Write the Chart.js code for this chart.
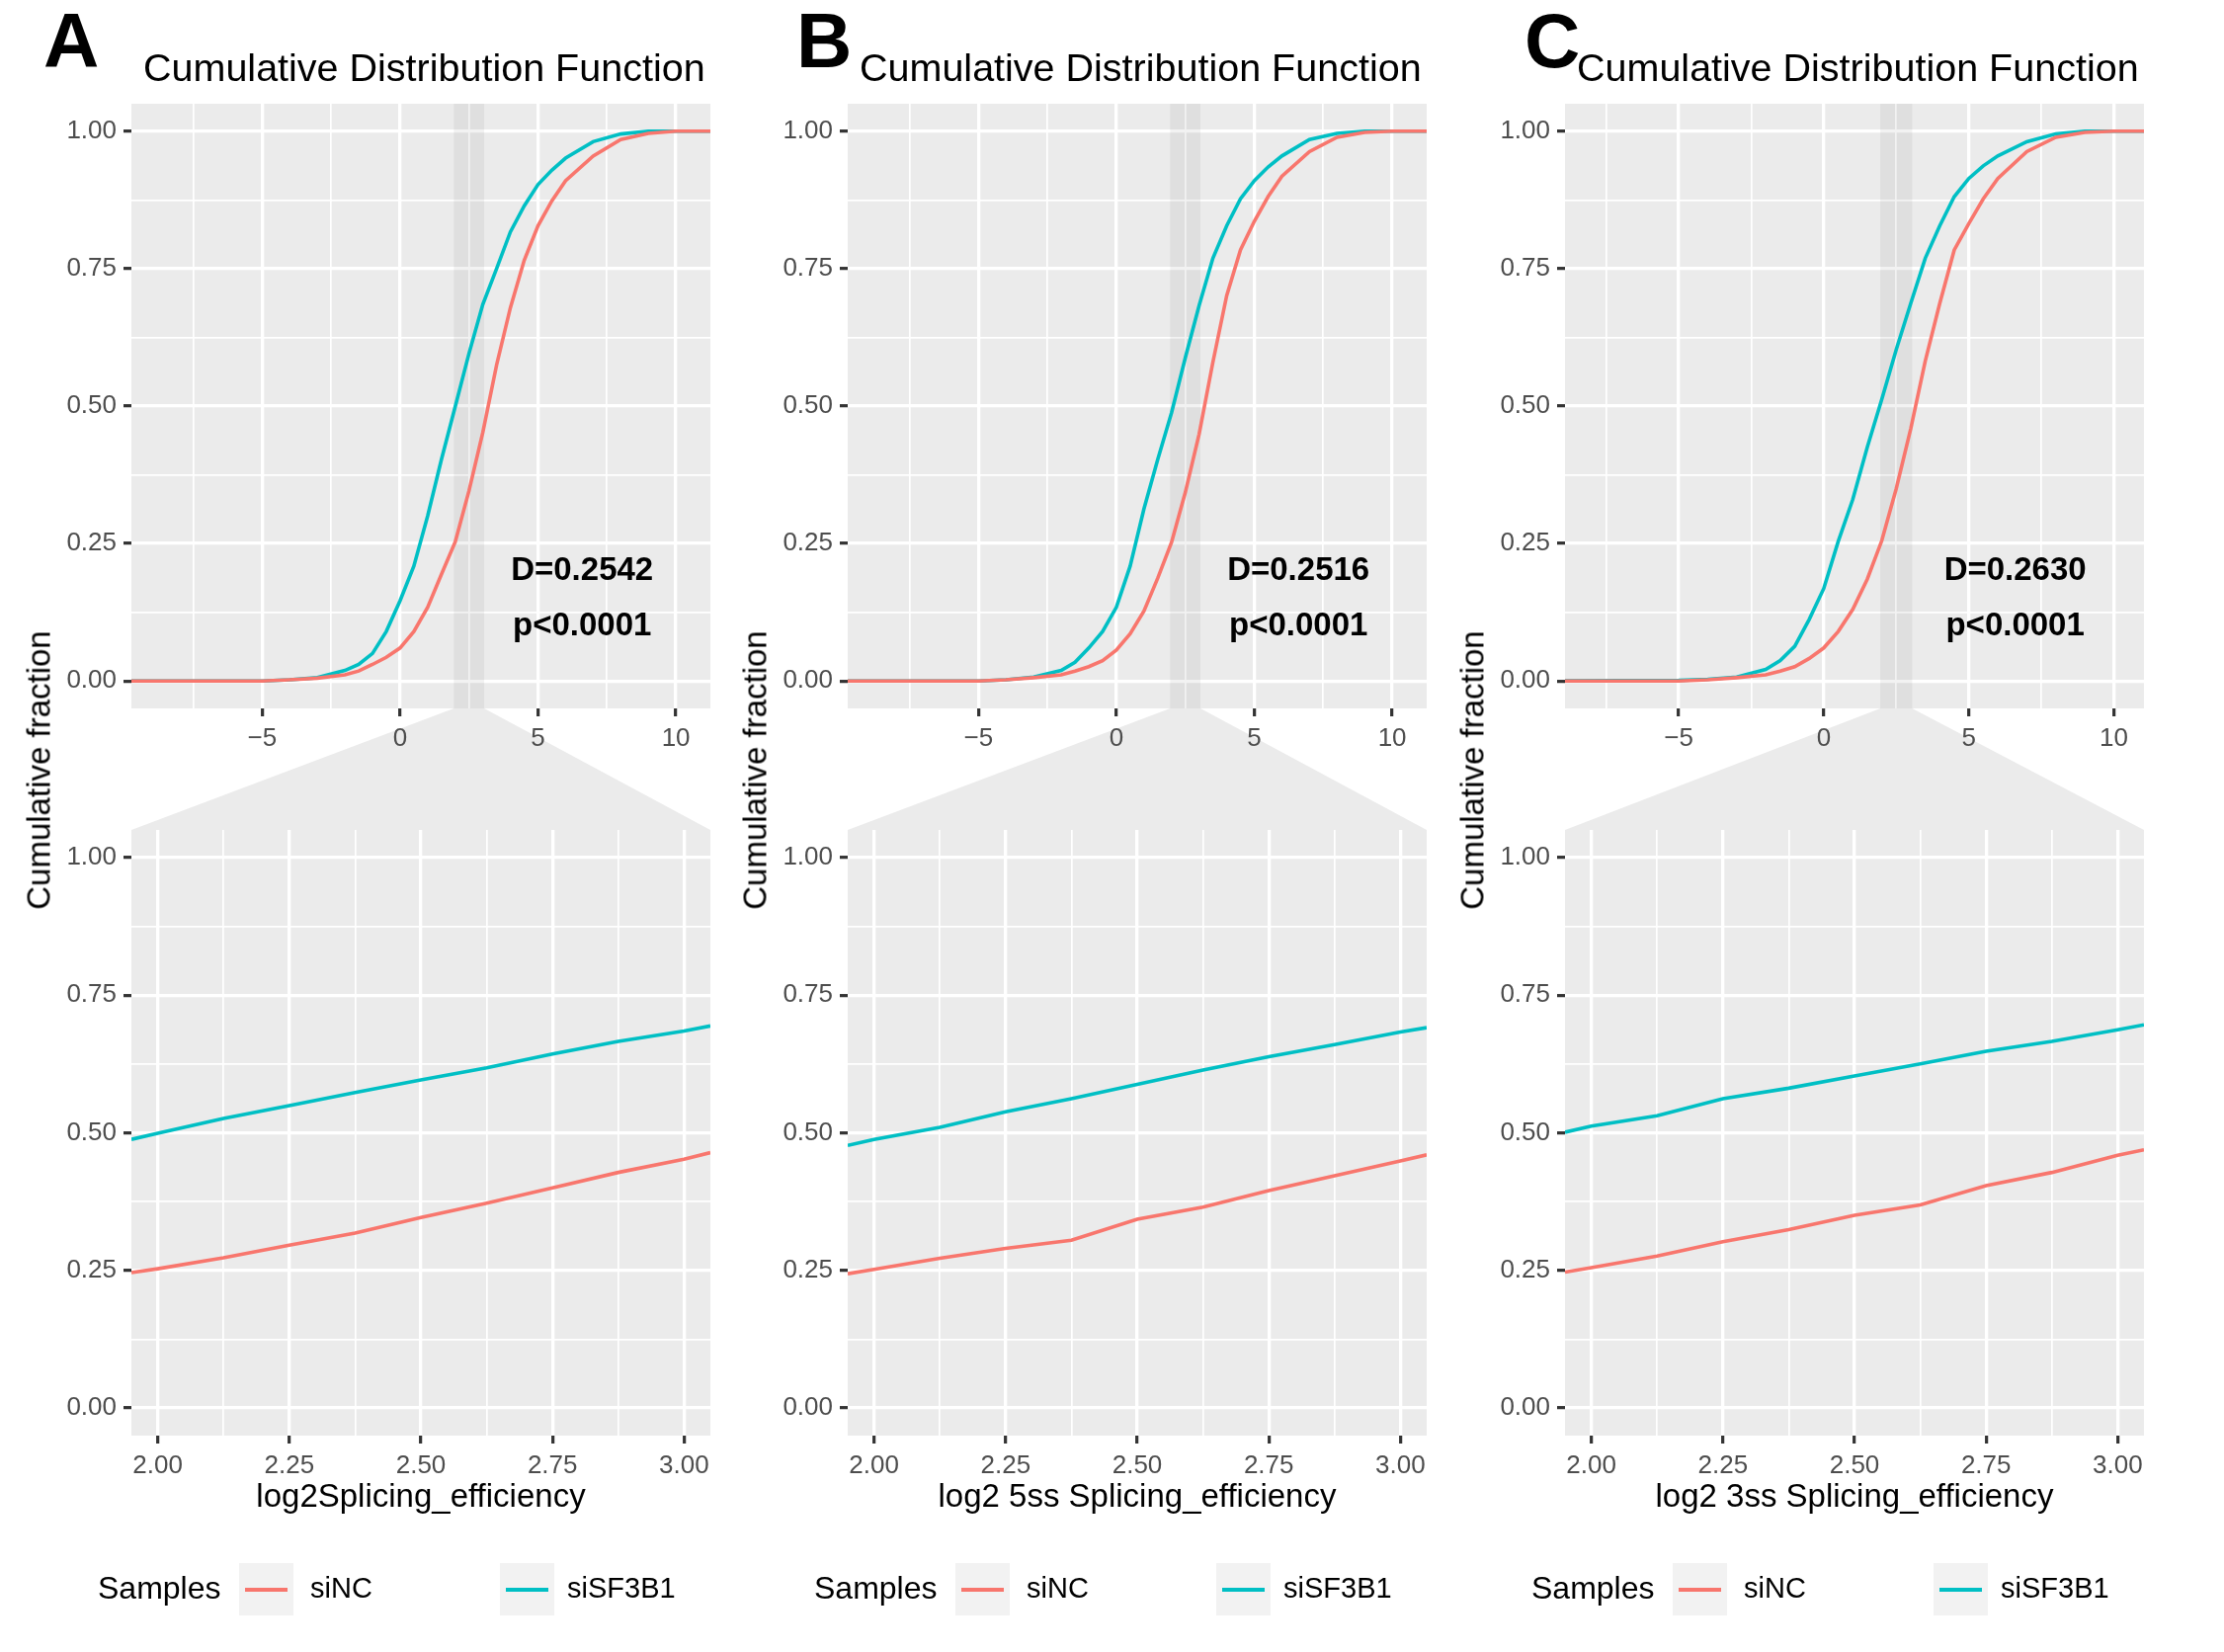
<!DOCTYPE html>
<html>
<head>
<meta charset="utf-8">
<script src="https://cdn.jsdelivr.net/npm/chart.js@4.4.1/dist/chart.umd.min.js"></script>
<style>
  body { margin: 0; background: #fff; }
  #page { position: relative; width: 2251px; height: 1672px; overflow: hidden;
          font-family: 'Liberation Sans', Arial, Helvetica, sans-serif; }
  #zoomLayer { position: absolute; left: 0; top: 0; z-index: 1; }
  .txt { position: absolute; white-space: nowrap; line-height: 1; z-index: 3; color: #000; }
</style>
</head>
<body>
<div id="page"><canvas id="zoomLayer" width="2251" height="1672"></canvas></div>
<script>
// ---- data ----
const sampleNames = ['siNC', 'siSF3B1'];
const sampleColors = ['#F8766D', '#00BFC4'];
const panelLetters = ['A', 'B', 'C'];
const panelTitle = 'Cumulative Distribution Function';
const xTitles = ['log2Splicing_efficiency', 'log2 5ss Splicing_efficiency', 'log2 3ss Splicing_efficiency'];
const yTitle = 'Cumulative fraction';
const ksStats = ['D=0.2542', 'D=0.2516', 'D=0.2630'];
const ksPvals = ['p<0.0001', 'p<0.0001', 'p<0.0001'];

// full range x limits of each top panel, and the zoomed window
const topXLimits = [[-9.74, 11.25], [-9.74, 11.25], [-8.92, 11.04]];
const zoomXLimits = [1.95, 3.05];
const yLimits = [-0.05, 1.05];

// tick positions (majors get labels)
const topXTicks = [-7.5, -5, -2.5, 0, 2.5, 5, 7.5, 10];
const zoomXTicks = [2, 2.125, 2.25, 2.375, 2.5, 2.625, 2.75, 2.875, 3];
const yTicks = [0, 0.125, 0.25, 0.375, 0.5, 0.625, 0.75, 0.875, 1];

// cumulative fraction
const cdfX = [-10, -5, -4, -3, -2, -1.5, -1, -0.5, 0, 0.5, 1, 1.5, 2, 2.5, 3, 3.5, 4, 4.5, 5, 5.5, 6, 7, 8, 9, 10, 12];
const cdfA_siNC    = [0, 0, 0.002, 0.005, 0.011, 0.018, 0.03, 0.043, 0.06, 0.09, 0.134, 0.194, 0.253, 0.346, 0.452, 0.575, 0.679, 0.765, 0.828, 0.873, 0.91, 0.955, 0.985, 0.996, 1, 1];
const cdfA_siSF3B1 = [0, 0, 0.002, 0.006, 0.019, 0.03, 0.05, 0.09, 0.146, 0.209, 0.30, 0.403, 0.499, 0.596, 0.685, 0.75, 0.817, 0.864, 0.903, 0.929, 0.951, 0.981, 0.995, 1, 1, 1];
const cdfB_siNC    = [0, 0, 0.002, 0.006, 0.011, 0.018, 0.026, 0.037, 0.056, 0.086, 0.127, 0.187, 0.252, 0.343, 0.449, 0.58, 0.701, 0.784, 0.836, 0.881, 0.918, 0.963, 0.989, 0.998, 1, 1];
const cdfB_siSF3B1 = [0, 0, 0.002, 0.007, 0.019, 0.034, 0.06, 0.09, 0.134, 0.209, 0.313, 0.403, 0.488, 0.588, 0.683, 0.769, 0.828, 0.877, 0.91, 0.935, 0.955, 0.985, 0.996, 1, 1, 1];
const cdfC_siNC    = [0, 0, 0.002, 0.006, 0.011, 0.018, 0.026, 0.041, 0.06, 0.09, 0.13, 0.185, 0.255, 0.35, 0.459, 0.582, 0.687, 0.784, 0.832, 0.877, 0.914, 0.963, 0.989, 0.998, 1, 1];
const cdfC_siSF3B1 = [0, 0.001, 0.003, 0.007, 0.021, 0.037, 0.063, 0.112, 0.168, 0.254, 0.33, 0.425, 0.512, 0.603, 0.687, 0.769, 0.828, 0.881, 0.914, 0.937, 0.955, 0.981, 0.995, 1, 1, 1];

// cumulative fraction
const zoomX = [1.95, 2, 2.125, 2.25, 2.375, 2.5, 2.625, 2.75, 2.875, 3, 3.05];
const zoomA_siNC    = [0.246, 0.253, 0.273, 0.296, 0.318, 0.346, 0.372, 0.40, 0.428, 0.452, 0.464];
const zoomA_siSF3B1 = [0.488, 0.499, 0.526, 0.5495, 0.573, 0.596, 0.618, 0.643, 0.666, 0.685, 0.694];
const zoomB_siNC    = [0.244, 0.252, 0.272, 0.29, 0.305, 0.343, 0.365, 0.395, 0.422, 0.449, 0.46];
const zoomB_siSF3B1 = [0.477, 0.488, 0.51, 0.538, 0.562, 0.588, 0.614, 0.638, 0.66, 0.683, 0.691];
const zoomC_siNC    = [0.247, 0.255, 0.276, 0.302, 0.324, 0.35, 0.369, 0.404, 0.428, 0.459, 0.469];
const zoomC_siSF3B1 = [0.501, 0.512, 0.531, 0.562, 0.581, 0.603, 0.625, 0.648, 0.666, 0.687, 0.696];

const topSeries = [[cdfA_siNC, cdfA_siSF3B1], [cdfB_siNC, cdfB_siSF3B1], [cdfC_siNC, cdfC_siSF3B1]];
const zoomSeries = [[zoomA_siNC, zoomA_siSF3B1], [zoomB_siNC, zoomB_siSF3B1], [zoomC_siNC, zoomC_siSF3B1]];

// where the stats text sits, in data units
const statX = 6.6;
const statY = [0.2, 0.1];

// ---- layout ----
const FONT = "'Liberation Sans', Arial, Helvetica, sans-serif";
const PANEL_LEFT = [133, 858, 1584];
const PANEL_W = 586;
const TOP_Y = 105, TOP_H = 612;
const BOT_Y = 840, BOT_H = 613;
const AXIS_W = 75, AXIS_H = 50, PAD_R = 20;

const page = document.getElementById('page');

const isQuarter = v => Math.abs(v * 4 - Math.round(v * 4)) < 1e-6;
const isFive = v => Math.abs(v % 5) < 1e-6;
const fmtTopX = v => (v < 0 ? '\u2212' + Math.abs(v) : String(v));
const fmt2 = v => v.toFixed(2);

function axis(limits, ticks, isMajor, fmt, horizontal) {
  return {
    type: 'linear',
    min: limits[0],
    max: limits[1],
    afterBuildTicks: s => { s.ticks = ticks.map(v => ({ value: v })); },
    afterFit: s => {
      if (horizontal) s.height = AXIS_H; else s.width = AXIS_W;
      s.paddingLeft = s.paddingRight = s.paddingTop = s.paddingBottom = 0;
    },
    ticks: {
      autoSkip: false, maxRotation: 0, minRotation: 0, padding: 7,
      color: '#4D4D4D', font: { family: FONT, size: 26 },
      callback: v => (isMajor(v) ? fmt(v) : '')
    },
    grid: {
      color: '#FFFFFF',
      lineWidth: c => (c.tick && isMajor(c.tick.value) ? 3.3 : 1.7),
      tickLength: 8,
      tickWidth: 3.2,
      tickColor: c => (c.tick && isMajor(c.tick.value) ? '#333333' : 'rgba(0,0,0,0)')
    },
    border: { display: false }
  };
}

const panelBg = {
  id: 'panelBg',
  beforeDraw(chart) {
    const { ctx, chartArea: a } = chart;
    ctx.save();
    ctx.fillStyle = '#EBEBEB';
    ctx.fillRect(a.left, a.top, a.right - a.left, a.bottom - a.top);
    ctx.restore();
  }
};

const zoomBand = {
  id: 'zoomBand',
  beforeDatasetsDraw(chart, args, opts) {
    if (!opts.range) return;
    const { ctx, chartArea: a, scales: { x } } = chart;
    const l = x.getPixelForValue(opts.range[0]);
    const r = x.getPixelForValue(opts.range[1]);
    ctx.save();
    ctx.fillStyle = 'rgba(0,0,0,0.05)';
    ctx.fillRect(l, a.top, r - l, a.bottom - a.top);
    ctx.restore();
  }
};

const statText = {
  id: 'statText',
  afterDatasetsDraw(chart, args, opts) {
    if (!opts.lines) return;
    const { ctx, scales: { x, y } } = chart;
    ctx.save();
    ctx.fillStyle = '#000';
    ctx.font = `bold 33px ${FONT}`;
    ctx.textAlign = 'center';
    ctx.textBaseline = 'middle';
    opts.lines.forEach((t, i) => ctx.fillText(t, x.getPixelForValue(opts.x), y.getPixelForValue(opts.y[i])));
    ctx.restore();
  }
};

function makeCanvas(left, top, w, h) {
  const wrap = document.createElement('div');
  wrap.style.cssText = `position:absolute;left:${left}px;top:${top}px;width:${w}px;height:${h}px;z-index:2`;
  const c = document.createElement('canvas');
  wrap.appendChild(c);
  page.appendChild(wrap);
  return c;
}

function addText(str, left, top, size, extra) {
  const d = document.createElement('div');
  d.className = 'txt';
  d.textContent = str;
  d.style.left = left + 'px';
  d.style.top = top + 'px';
  d.style.fontSize = size + 'px';
  if (extra) Object.assign(d.style, extra);
  page.appendChild(d);
  return d;
}

function buildChart(canvas, xs, ys, xAxis, pluginOpts) {
  return new Chart(canvas.getContext('2d'), {
    type: 'line',
    data: {
      datasets: sampleNames.map((name, i) => ({
        label: name,
        data: xs.map((x, k) => ({ x, y: ys[i][k] })),
        borderColor: sampleColors[i],
        borderWidth: 3.6,
        pointRadius: 0,
        tension: 0,
        fill: false
      }))
    },
    options: {
      responsive: true,
      maintainAspectRatio: false,
      animation: false,
      devicePixelRatio: 1,
      layout: { padding: { left: 0, top: 0, right: PAD_R, bottom: 0 } },
      scales: {
        x: xAxis,
        y: axis(yLimits, yTicks, isQuarter, fmt2, false)
      },
      plugins: Object.assign({ legend: { display: false }, tooltip: { enabled: false } }, pluginOpts)
    },
    plugins: [panelBg, zoomBand, statText]
  });
}

const layer = document.getElementById('zoomLayer').getContext('2d');

PANEL_LEFT.forEach((pl, p) => {
  const dx = pl - PANEL_LEFT[0];
  const cw = AXIS_W + PANEL_W + PAD_R;

  const topCanvas = makeCanvas(pl - AXIS_W, TOP_Y, cw, TOP_H + AXIS_H);
  const topChart = buildChart(topCanvas, cdfX, topSeries[p],
    axis(topXLimits[p], topXTicks, isFive, fmtTopX, true),
    { zoomBand: { range: zoomXLimits }, statText: { lines: [ksStats[p], ksPvals[p]], x: statX, y: statY } });

  const botCanvas = makeCanvas(pl - AXIS_W, BOT_Y, cw, BOT_H + AXIS_H);
  const botChart = buildChart(botCanvas, zoomX, zoomSeries[p],
    axis(zoomXLimits, zoomXTicks, isQuarter, fmt2, true), {});

  // trapezoid linking the band to the zoomed panel
  const t = topChart.chartArea, b = botChart.chartArea;
  const ox = pl - AXIS_W;
  layer.fillStyle = '#EBEBEB';
  layer.beginPath();
  layer.moveTo(ox + topChart.scales.x.getPixelForValue(zoomXLimits[0]), TOP_Y + t.bottom);
  layer.lineTo(ox + topChart.scales.x.getPixelForValue(zoomXLimits[1]), TOP_Y + t.bottom);
  layer.lineTo(ox + b.right, BOT_Y + b.top);
  layer.lineTo(ox + b.left, BOT_Y + b.top);
  layer.closePath();
  layer.fill();

  // texts
  addText(panelLetters[p], [44, 806, 1543][p], 2, 78, { fontWeight: 'bold' });
  addText(panelTitle, pl + 12, 49, 39.5);
  addText(yTitle, 39 + dx - 250, 779 - 16.5, 33, { width: '500px', textAlign: 'center', transform: 'rotate(-90deg)' });
  addText(xTitles[p], pl + PANEL_W / 2 - 300, 1497, 33, { width: '600px', textAlign: 'center' });

  // legend
  addText('Samples', pl - 34, 1591, 32);
  const keyLeft = [pl + 109, pl + 373];
  const labLeft = [pl + 181, pl + 441];
  sampleNames.forEach((name, i) => {
    const key = document.createElement('div');
    key.style.cssText = `position:absolute;left:${keyLeft[i]}px;top:1582px;width:55px;height:53px;background:#F2F2F2;z-index:3`;
    const ln = document.createElement('div');
    ln.style.cssText = `position:absolute;left:6px;top:25px;width:43px;height:3.7px;background:${sampleColors[i]}`;
    key.appendChild(ln);
    page.appendChild(key);
    addText(name, labLeft[i], 1593, 29);
  });
});
</script>
</body>
</html>
